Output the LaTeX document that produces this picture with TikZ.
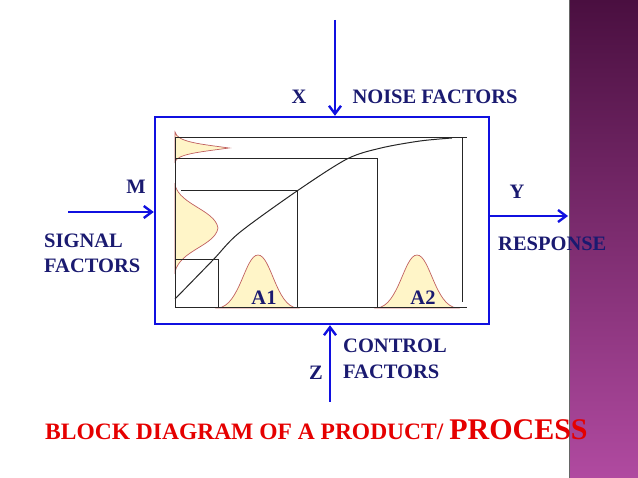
\documentclass[tikz,border=0pt]{standalone}
\usepackage{fontspec}
\setmainfont{Liberation Serif}
\begin{document}
\begin{tikzpicture}[x=1pt,y=-1pt,
 lbl/.style={font=\fontsize{20.5}{24}\selectfont\bfseries,text=navy,inner sep=0pt},
 barrow/.style={draw=arrblue,line width=2.4pt,->,>={Straight Barb[length=8pt,width=12pt]}},
 gauss/.style={draw=gred,fill=gfill,line width=0.7pt},
 thin/.style={draw=black!85,line width=1pt}]
\usetikzlibrary{arrows.meta}
\definecolor{navy}{HTML}{1A1A70}
\definecolor{arrblue}{HTML}{1010E0}
\definecolor{gred}{HTML}{C06060}
\definecolor{gfill}{HTML}{FFF5C8}
\definecolor{ptop}{HTML}{4A0F40}
\definecolor{pbot}{HTML}{B04AA0}
\useasboundingbox (0,0) rectangle (638,478);
\shade[top color=ptop,bottom color=pbot] (569,0) rectangle (638,478);
\draw[black!60,line width=1pt] (569,0) -- (569,478);
% gaussians
\draw[gauss] (175,132) .. controls (177,142) and (200,144) .. (229,148) .. controls (200,152) and (177,154) .. (175,162) -- cycle;
\draw[gauss] (175,185) .. controls (180,205) and (215,210) .. (218,228) .. controls (215,246) and (180,250) .. (175,272) -- cycle;
\draw[gauss] (218,308) .. controls (240,306) and (245,255) .. (258,255) .. controls (271,255) and (276,306) .. (297,308) -- cycle;
\draw[gauss] (377,308) .. controls (399,306) and (404,255) .. (417,255) .. controls (430,255) and (435,306) .. (457,308) -- cycle;
% frame lines
\draw[thin] (175,138) -- (175,308) -- (467,308);
\draw[thin] (175,138) -- (467,138);
\draw[thin] (462,138) -- (462,302);
\draw[thin] (175,159) -- (377,159) -- (377,308);
\draw[thin] (181,191) -- (297,191) -- (297,308);
\draw[thin] (175,260) -- (218,260) -- (218,308);
\draw[thin] plot[smooth] coordinates {(175,299) (213,260) (239,233) (297,191) (347,159) (381,148) (420,141) (452,138)};
\node[lbl] (a1) at (264,298) {A1};
\node[lbl] (a2) at (423,298) {A2};
% box
\node[draw=arrblue,line width=2.4pt,minimum width=334pt,minimum height=207pt,inner sep=0pt] (box) at (322,220.5) {};
\coordinate (xs) at (335,20);
\coordinate (ms) at (68,212);
\coordinate (ye) at (568,216);
\coordinate (zs) at (330,402);
\draw[barrow] (xs) -- (box.north -| xs);
\draw[barrow] (ms) -- (box.west |- ms);
\draw[barrow] (box.east |- ye) -- (ye);
\draw[barrow] (zs) -- (box.south -| zs);
\node[lbl] (x) at (299,97) {X};
\node[lbl] (nf) at (435,97) {NOISE FACTORS};
\node[lbl] (m) at (136,187) {M};
\node[lbl,anchor=west,align=left,font=\fontsize{20.5}{25}\selectfont\bfseries] (sf) at (44,253) {SIGNAL\\FACTORS};
\node[lbl] (y) at (517,192) {Y};
\node[lbl,anchor=west] (resp) at (498,244) {RESPONSE};
\node[lbl,anchor=west,align=left,font=\fontsize{20.5}{26}\selectfont\bfseries] (cf) at (343,359) {CONTROL\\FACTORS};
\node[lbl] (z) at (316,373) {Z};
\node[anchor=base west,inner sep=0pt,text=red!90!black,font=\bfseries] (t) at (45,440) {\fontsize{23.5}{26}\selectfont BLOCK DIAGRAM OF A PRODUCT/ \fontsize{30}{32}\selectfont PROCESS};
\end{tikzpicture}
\end{document}
